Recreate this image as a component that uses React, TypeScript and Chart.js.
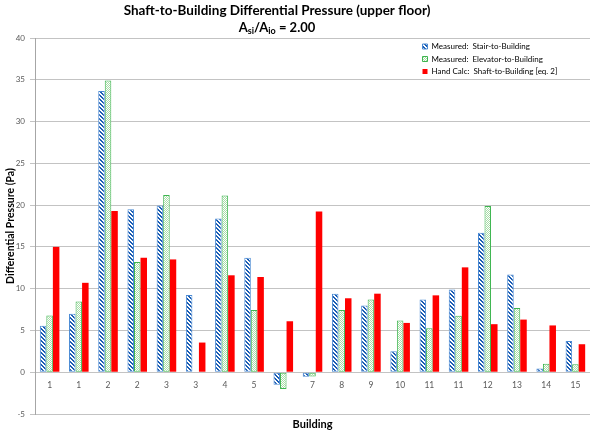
import React, { useEffect, useRef } from "react";
import { Chart, registerables } from "chart.js";

Chart.register(...registerables);

const categories = ["1", "1", "2", "2", "3", "3", "4", "5", "6", "7", "8", "9", "10", "11", "11", "12", "13", "14", "15"];
const stairToBuilding = [5.55, 7.0, 33.65, 19.5, 19.95, 9.25, 18.4, 13.7, -1.5, -0.55, 9.4, 8.0, 2.5, 8.7, 9.9, 16.7, 11.7, 0.45, 3.75];
const elevatorToBuilding = [6.8, 8.45, 34.9, 13.2, 21.2, null, 21.15, 7.45, -2.0, -0.5, 7.45, 8.7, 6.2, 5.25, 6.75, 19.9, 7.7, 1.0, 0.95];
const handCalc = [15.0, 10.7, 19.3, 13.7, 13.5, 3.55, 11.6, 11.4, 6.1, 19.25, 8.85, 9.4, 5.9, 9.2, 12.55, 5.75, 6.3, 5.6, 3.35];
const seriesLabels = [
  "Measured:  Stair-to-Building",
  "Measured:  Elevator-to-Building",
  "Hand Calc:  Shaft-to-Building [eq. 2]",
];
const titleText = "Shaft-to-Building Differential Pressure (upper floor)";
const subtitleParts: [string, boolean][] = [["A", false], ["si", true], ["/A", false], ["io", true], [" = 2.00", false]];
const xTitle = "Building";
const yTitle = "Differential Pressure (Pa)";

const FONT = "Lato, 'Liberation Sans', sans-serif";

function makeStripePattern(color: string): CanvasPattern | string {
  const c = document.createElement("canvas");
  c.width = 4;
  c.height = 4;
  const g = c.getContext("2d");
  if (!g) return color;
  g.fillStyle = "#ffffff";
  g.fillRect(0, 0, 4, 4);
  g.fillStyle = color;
  for (let y = 0; y < 4; y++) {
    for (let x = 0; x < 4; x++) {
      const d = (((x - y) % 4) + 4) % 4;
      if (d < 2) g.fillRect(x, y, 1, 1);
    }
  }
  return g.createPattern(c, "repeat") || color;
}

function makeDotPattern(color: string): CanvasPattern | string {
  const c = document.createElement("canvas");
  c.width = 2;
  c.height = 2;
  const g = c.getContext("2d");
  if (!g) return color;
  g.fillStyle = "#ffffff";
  g.fillRect(0, 0, 2, 2);
  g.fillStyle = color;
  g.fillRect(0, 0, 1, 1);
  g.fillRect(1, 1, 1, 1);
  return g.createPattern(c, "repeat") || color;
}

const titlesPlugin = {
  id: "customTitles",
  afterDraw(chart: any) {
    const ctx = chart.ctx as CanvasRenderingContext2D;
    const area = chart.chartArea;
    ctx.save();
    ctx.fillStyle = "#000000";
    ctx.textBaseline = "middle";
    ctx.textAlign = "center";
    ctx.font = `bold 15px ${FONT}`;
    const w = ctx.measureText(titleText).width;
    const size = Math.min(17, (15 * 307) / w);
    ctx.font = `bold ${size}px ${FONT}`;
    ctx.fillText(titleText, 277, 11);
    const base = `bold 13px ${FONT}`;
    const sub = `bold 9px ${FONT}`;
    let total = 0;
    for (const [t, s] of subtitleParts) {
      ctx.font = s ? sub : base;
      total += ctx.measureText(t).width;
    }
    let x = 277 - total / 2;
    ctx.textAlign = "left";
    for (const [t, s] of subtitleParts) {
      ctx.font = s ? sub : base;
      ctx.fillText(t, x, s ? 31 : 28);
      x += ctx.measureText(t).width;
    }
    ctx.textAlign = "center";
    ctx.font = `bold 11px ${FONT}`;
    ctx.fillText(xTitle, (area.left + area.right) / 2, 424);
    ctx.restore();
  },
};

const legendPlacePlugin = {
  id: "legendPlace",
  afterLayout(chart: any) {
    if (chart.legend) {
      chart.legend.left = 418;
      chart.legend.right = 418 + chart.legend.width;
      chart.legend.top = chart.chartArea.top;
    }
  },
};

export default function App() {
  const canvasRef = useRef<HTMLCanvasElement | null>(null);

  useEffect(() => {
    if (!canvasRef.current) return;
    const stripe = makeStripePattern("#1a5cb3");
    const dots = makeDotPattern("#a8dca8");
    const chart = new Chart(canvasRef.current, {
      type: "bar",
      data: {
        labels: categories,
        datasets: [
          {
            label: seriesLabels[0],
            data: stairToBuilding,
            backgroundColor: stripe as any,
            borderColor: "#4a8ad4",
            borderWidth: 1,
            borderSkipped: false,
          },
          {
            label: seriesLabels[1],
            data: elevatorToBuilding as any,
            backgroundColor: dots as any,
            borderColor: "#3db54f",
            borderWidth: 1,
            borderSkipped: false,
          },
          {
            label: seriesLabels[2],
            data: handCalc,
            backgroundColor: "#ff0000",
            borderColor: "#ff0000",
            borderWidth: 0,
          },
        ],
      },
      options: {
        animation: false,
        responsive: true,
        maintainAspectRatio: false,
        datasets: {
          bar: {
            barPercentage: 1,
            categoryPercentage: 0.67,
          },
        },
        layout: {
          padding: { top: 38, right: 1, bottom: 18, left: 0 },
        },
        scales: {
          x: {
            position: { y: 0 } as any,
            grid: { display: false, drawTicks: false },
            border: { display: false },
            ticks: {
              color: "#595959",
              font: { family: FONT, size: 8.5 },
              padding: 8,
              autoSkip: false,
              maxRotation: 0,
            },
            afterFit: (s: any) => {
              s.height = 0;
            },
          },
          y: {
            min: -5,
            max: 40,
            ticks: {
              stepSize: 5,
              color: "#595959",
              font: { family: FONT, size: 8 },
              padding: 5,
            },
            grid: { color: "#c3c3c3", tickLength: 5 },
            border: { color: "#a6a6a6" },
            title: {
              display: true,
              text: yTitle,
              color: "#000000",
              font: { family: FONT, size: 10.5, weight: "bold" },
              padding: { top: 4, bottom: 0 },
            },
            afterFit: (s: any) => {
              s.width = 35;
            },
          },
        },
        plugins: {
          legend: {
            position: "chartArea" as any,
            align: "start",
            labels: {
              boxWidth: 5,
              boxHeight: 5,
              padding: 4.5,
              color: "#000000",
              font: { family: FONT, size: 8 },
            },
          },
          title: { display: false },
          tooltip: { enabled: false },
        },
      },
      plugins: [titlesPlugin, legendPlacePlugin],
    });
    return () => chart.destroy();
  }, []);

  return (
    <div style={{ position: "fixed", left: 0, top: 0, width: 591, height: 432, background: "#ffffff" }}>
      <canvas ref={canvasRef} />
    </div>
  );
}
